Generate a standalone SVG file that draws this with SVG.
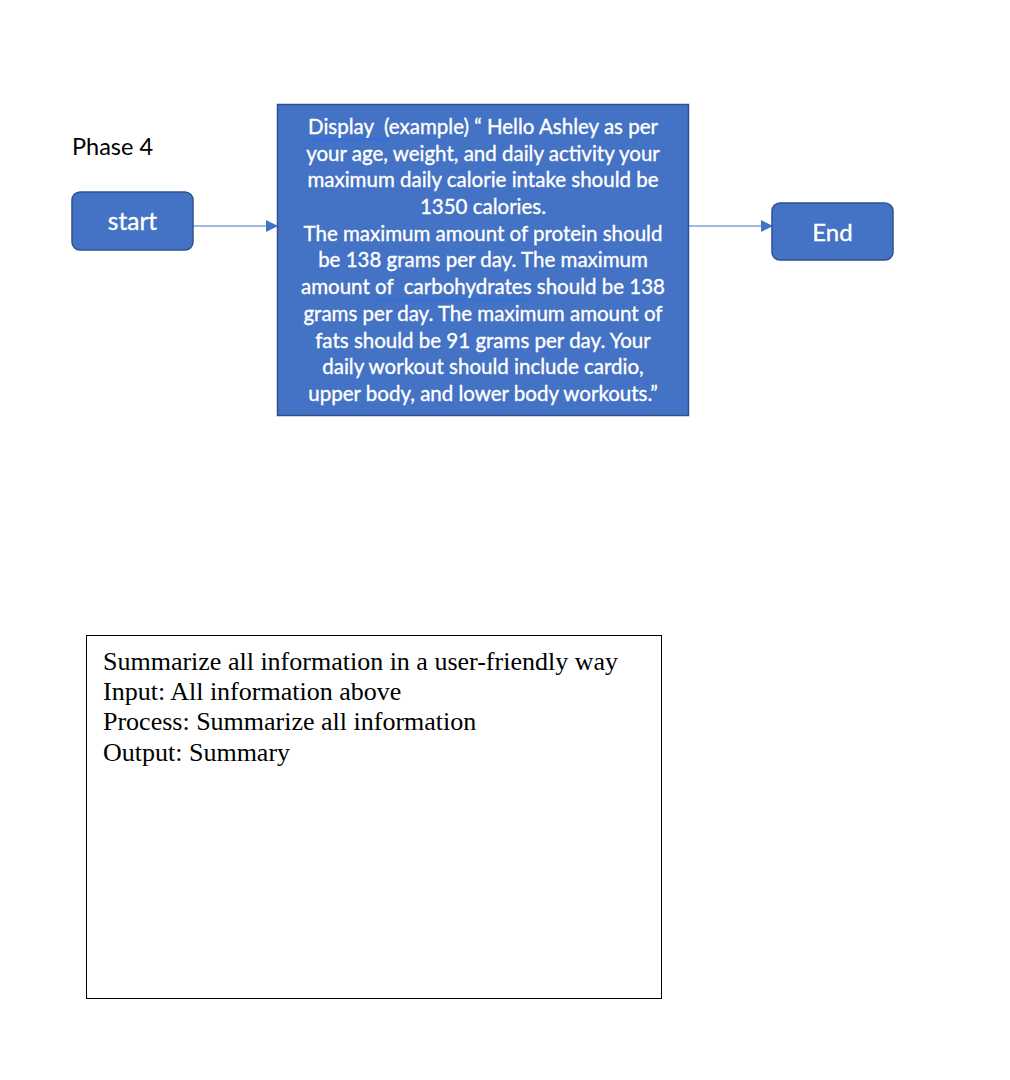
<svg xmlns="http://www.w3.org/2000/svg" width="1010" height="1080" viewBox="0 0 1010 1080">
<style>
.node{fill:#4472C4;stroke:#2F528F;stroke-width:1.5}
.wt{fill:#fff;stroke:#fff;stroke-width:0.35;font-family:Lato,"Liberation Sans",sans-serif;text-anchor:middle}
.conn{stroke:#4472C4;stroke-width:1;fill:none}
.sq{stroke:#2F6FE0;stroke-width:1;fill:none}
.ser{font-family:"Liberation Serif",serif;font-size:26px;fill:#000}
</style>
<defs>
<marker id="arr" markerWidth="12" markerHeight="12" refX="11" refY="6" orient="auto" markerUnits="userSpaceOnUse">
<path d="M0,0 L12,6 L0,12 Z" fill="#4472C4"/>
</marker>
</defs>
<rect width="1010" height="1080" fill="#fff"/>
<text x="72" y="155" font-family="Lato,'Liberation Sans',sans-serif" font-size="23.5" fill="#000">Phase 4</text>
<g id="connectors">
<line class="conn" x1="193" y1="226" x2="277" y2="226" marker-end="url(#arr)"/>
<line class="conn" x1="689" y1="226" x2="772" y2="226" marker-end="url(#arr)"/>
</g>
<g id="start">
<rect class="node" x="72" y="192" width="121" height="58" rx="8"/>
<text class="wt" x="132.5" y="230" font-size="24.5">start</text>
</g>
<g id="display">
<rect class="node" x="277.5" y="104.5" width="411" height="311"/>
<g class="wt" font-size="20.5">
<text x="483" y="134" xml:space="preserve">Display  (example) “ Hello Ashley as per</text>
<text x="483" y="161">your age, weight, and daily activity your</text>
<text x="483" y="187">maximum daily calorie intake should be</text>
<text x="483" y="214">1350 calories.</text>
<text x="483" y="241">The maximum amount of protein should</text>
<text x="483" y="267">be 138 grams per day. The maximum</text>
<text x="483" y="294" xml:space="preserve">amount of  carbohydrates should be 138</text>
<text x="483" y="321">grams per day. The maximum amount of</text>
<text x="483" y="348">fats should be 91 grams per day. Your</text>
<text x="483" y="374">daily workout should include cardio,</text>
<text x="483" y="401">upper body, and lower body workouts.”</text>
</g>
<path class="sq" d="M307,138.5 H389 M307,140 H389"/>
<path class="sq" d="M377,298.5 H533 M377,300 H533"/>
</g>
<g id="end">
<rect class="node" x="772" y="203" width="121" height="57" rx="8"/>
<text class="wt" x="832.5" y="241" font-size="24">End</text>
</g>
<g id="summary">
<rect x="86.5" y="635.5" width="575" height="363" fill="#fff" stroke="#000" stroke-width="1"/>
<text class="ser" x="103" y="670">Summarize all information in a user-friendly way</text>
<text class="ser" x="103" y="700">Input: All information above</text>
<text class="ser" x="103" y="730">Process: Summarize all information</text>
<text class="ser" x="103" y="761">Output: Summary</text>
</g>
</svg>
